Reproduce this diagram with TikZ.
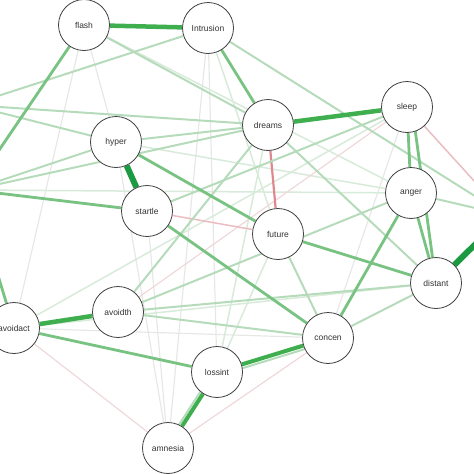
\documentclass[tikz,border=0pt]{standalone}
\usepackage{fontspec}
\setmainfont{Liberation Sans}
\usetikzlibrary{backgrounds}
\definecolor{gD}{HTML}{1B9A41}
\definecolor{gS}{HTML}{3FAE4F}
\definecolor{gM}{HTML}{78C282}
\definecolor{gL}{HTML}{B6DBBA}
\definecolor{gF}{HTML}{D8EBDA}
\definecolor{gG}{HTML}{E6E8E6}
\definecolor{rM}{HTML}{E0888F}
\definecolor{rL}{HTML}{EBBCC0}
\definecolor{rF}{HTML}{F0D8DA}
\begin{document}
\begin{tikzpicture}[x=1pt,y=-1pt,
  vnode/.style={circle,draw=black!75,line width=0.8pt,fill=white,minimum size=51pt,inner sep=0pt,font=\fontsize{8.5}{10}\selectfont,text=black!80},
  eD/.style={draw=gD,line width=6pt},
  eS/.style={draw=gS,line width=4.5pt},
  eM/.style={draw=gM,line width=2.8pt},
  eL/.style={draw=gL,line width=2pt},
  eF/.style={draw=gF,line width=1.5pt},
  eG/.style={draw=gG,line width=1.2pt},
  erM/.style={draw=rM,line width=2.2pt},
  erL/.style={draw=rL,line width=1.5pt},
  erF/.style={draw=rF,line width=1.2pt}]
\useasboundingbox (0,0) rectangle (474,474);
\node[vnode] (flash) at (84,25) {flash};
\node[vnode] (intr) at (208,28) {Intrusion};
\node[vnode] (hyper) at (116,142) {hyper};
\node[vnode] (startle) at (147,211) {startle};
\node[vnode] (dreams) at (268,125) {dreams};
\node[vnode] (sleep) at (407,107) {sleep};
\node[vnode] (anger) at (411,193) {anger};
\node[vnode] (future) at (278,234) {future};
\node[vnode] (distant) at (436,283) {distant};
\node[vnode] (concen) at (328,338) {concen};
\node[vnode] (lossint) at (217,372) {lossint};
\node[vnode] (amnesia) at (168,448) {amnesia};
\node[vnode] (avoidth) at (118,312) {avoidth};
\node[vnode] (avoidact) at (14,328) {avoidact};
\coordinate (L1) at (-30,105);
\coordinate (L2) at (-28,190);
\coordinate (R) at (505,215);
\begin{pgfonlayer}{background}
% very faint
\draw[eG] (flash) -- (avoidact);
\draw[eG] (flash) -- (hyper);
\draw[eG] (intr) -- (amnesia);
\draw[eG] (hyper) -- (amnesia);
\draw[eG] (startle) -- (amnesia);
\draw[eG] (avoidact) -- (concen);
\draw[eG] (sleep) -- (concen);
\draw[eG] (intr) -- (lossint);
% faint
\draw[eF] (flash) -- (anger);
\draw[eF] (intr) -- (future);
\draw[eF] (future) -- (lossint);
\draw[eF] (lossint) -- (dreams);
\draw[eF] (distant) -- (avoidact);
\draw[eF] (L2) -- (anger);
\draw[eF] (sleep) -- (avoidact);
\draw[eF] (hyper) -- (anger);
% red
\draw[erF] (sleep) -- (avoidth);
\draw[erF] (avoidact) -- (amnesia);
\draw[erF] (amnesia) -- (concen);
\draw[erL] (startle) -- (future);
\draw[erL] (sleep) -- (R);
\draw[erM] (dreams) -- (future);
% light
\draw[eL] (intr) -- (L1);
\draw[eL] (concen) -- (distant);
\draw[eL] (anger) -- (R);
\draw[eL] (flash) -- (dreams);
\draw[eL] (hyper) -- (dreams);
\draw[eL] (sleep) -- (startle);
\draw[eL] (L2) -- (hyper);
\draw[eL] (L1) -- (hyper);
\draw[eL] (L1) -- (dreams);
\draw[eL] (L2) -- (dreams);
\draw[eL] (dreams) -- (distant);
\draw[eL] (avoidth) -- (dreams);
\draw[eL] (avoidth) -- (anger);
\draw[eL] (avoidth) -- (distant);
\draw[eL] (avoidth) -- (concen);
\draw[eL] (future) -- (concen);
\draw[eL] (intr) -- (R);
\draw[eL] ([yshift=-4pt]concen.center) -- ([yshift=-4pt]lossint.center);
\draw[eL] ([xshift=-4pt]lossint.center) -- ([xshift=-4pt]amnesia.center);
% medium
\draw[eM] (flash) -- (L2);
\draw[eM] (avoidact) -- (L2);
\draw[eM] (L2) -- (startle);
\draw[eM] (sleep) -- (anger);
\draw[eM] ([xshift=5pt]sleep.center) -- (distant);
\draw[eM] (future) -- (distant);
\draw[eM] (startle) -- (concen);
\draw[eM] (hyper) -- (future);
\draw[eM] (concen) -- (anger);
\draw[eM] (avoidact) -- (lossint);
\draw[eM] (intr) -- (dreams);
\draw[eM] (anger) -- (distant);
% strong
\draw[eS] (flash) -- (intr);
\draw[eS] (dreams) -- (sleep);
\draw[eS] (avoidact) -- (avoidth);
\draw[eS,line width=4pt] (lossint) -- (amnesia);
\draw[eS,line width=4pt] (concen) -- (lossint);
\draw[eD] (hyper) -- (startle);
\draw[eD] (distant) -- (R);
\end{pgfonlayer}
\end{tikzpicture}
\end{document}
